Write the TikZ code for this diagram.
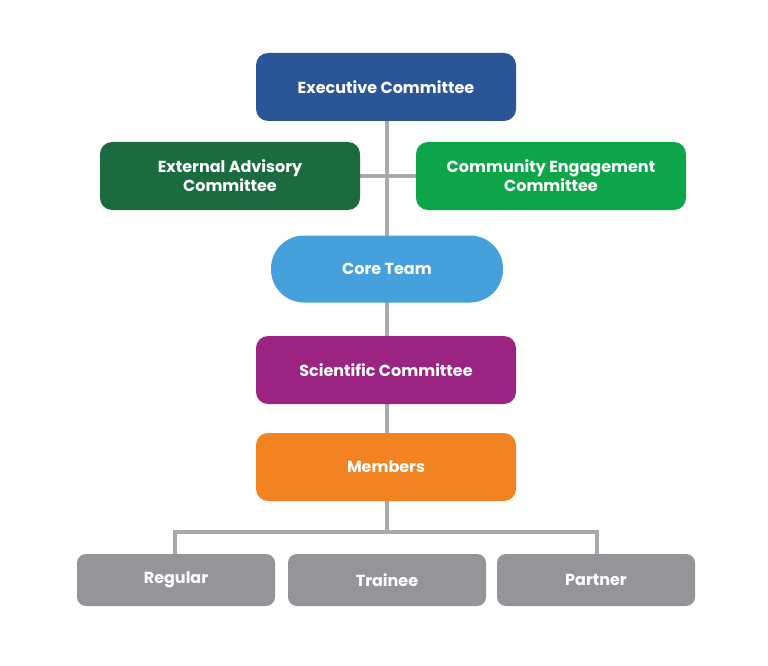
\documentclass[tikz,border=0pt]{standalone}
\usepackage{fontspec}
\setmainfont{Poppins}
\begin{document}
\begin{tikzpicture}[x=1pt,y=-1pt,
 box/.style={rounded corners=12pt,minimum width=260pt,minimum height=68pt,text=white,font=\fontsize{16}{19}\selectfont\bfseries,align=center,inner sep=0pt},
 leaf/.style={box,fill=grey,minimum width=198pt,minimum height=52pt,rounded corners=9pt},
 wire/.style={draw=lgrey,line width=4pt}]
\definecolor{exec}{HTML}{2A5597}
\definecolor{adv}{HTML}{1A6B3F}
\definecolor{comm}{HTML}{0EA44A}
\definecolor{core}{HTML}{45A0DC}
\definecolor{sci}{HTML}{9B2482}
\definecolor{mem}{HTML}{F28322}
\definecolor{grey}{HTML}{939598}
\definecolor{lgrey}{HTML}{A7A9AC}
\useasboundingbox (0,0) rectangle (768,666);
\coordinate (bl) at (175,532);
\coordinate (br) at (597,532);
\coordinate (bm) at (387,532);
\coordinate (hm) at (387,176);
\draw[wire] (387,87) -- (387,467);
\draw[wire] (230,176) -- (551,176);
\draw[wire] (bm) -- (387,500);
\draw[wire] (175,580) -- (bl) -- (br) -- (597,580);
\node[box,fill=exec] (ex) at (386,87) {Executive Committee};
\node[box,fill=adv] (adv) at (230,176) {External Advisory\\Committee};
\node[box,fill=comm,minimum width=270pt] (com) at (551,176) {Community Engagement\\Committee};
\node[box,fill=core,minimum width=232pt,minimum height=67pt,rounded corners=33pt] (core) at (387,269) {Core Team};
\node[box,fill=sci] (sci) at (386,370) {Scientific Committee};
\node[box,fill=mem] (mem) at (386,467) {Members};
\node[leaf] (r) at (176,580) {Regular};
\node[leaf] (t) at (387,580) {Trainee};
\node[leaf] (p) at (596,580) {Partner};
\end{tikzpicture}
\end{document}
